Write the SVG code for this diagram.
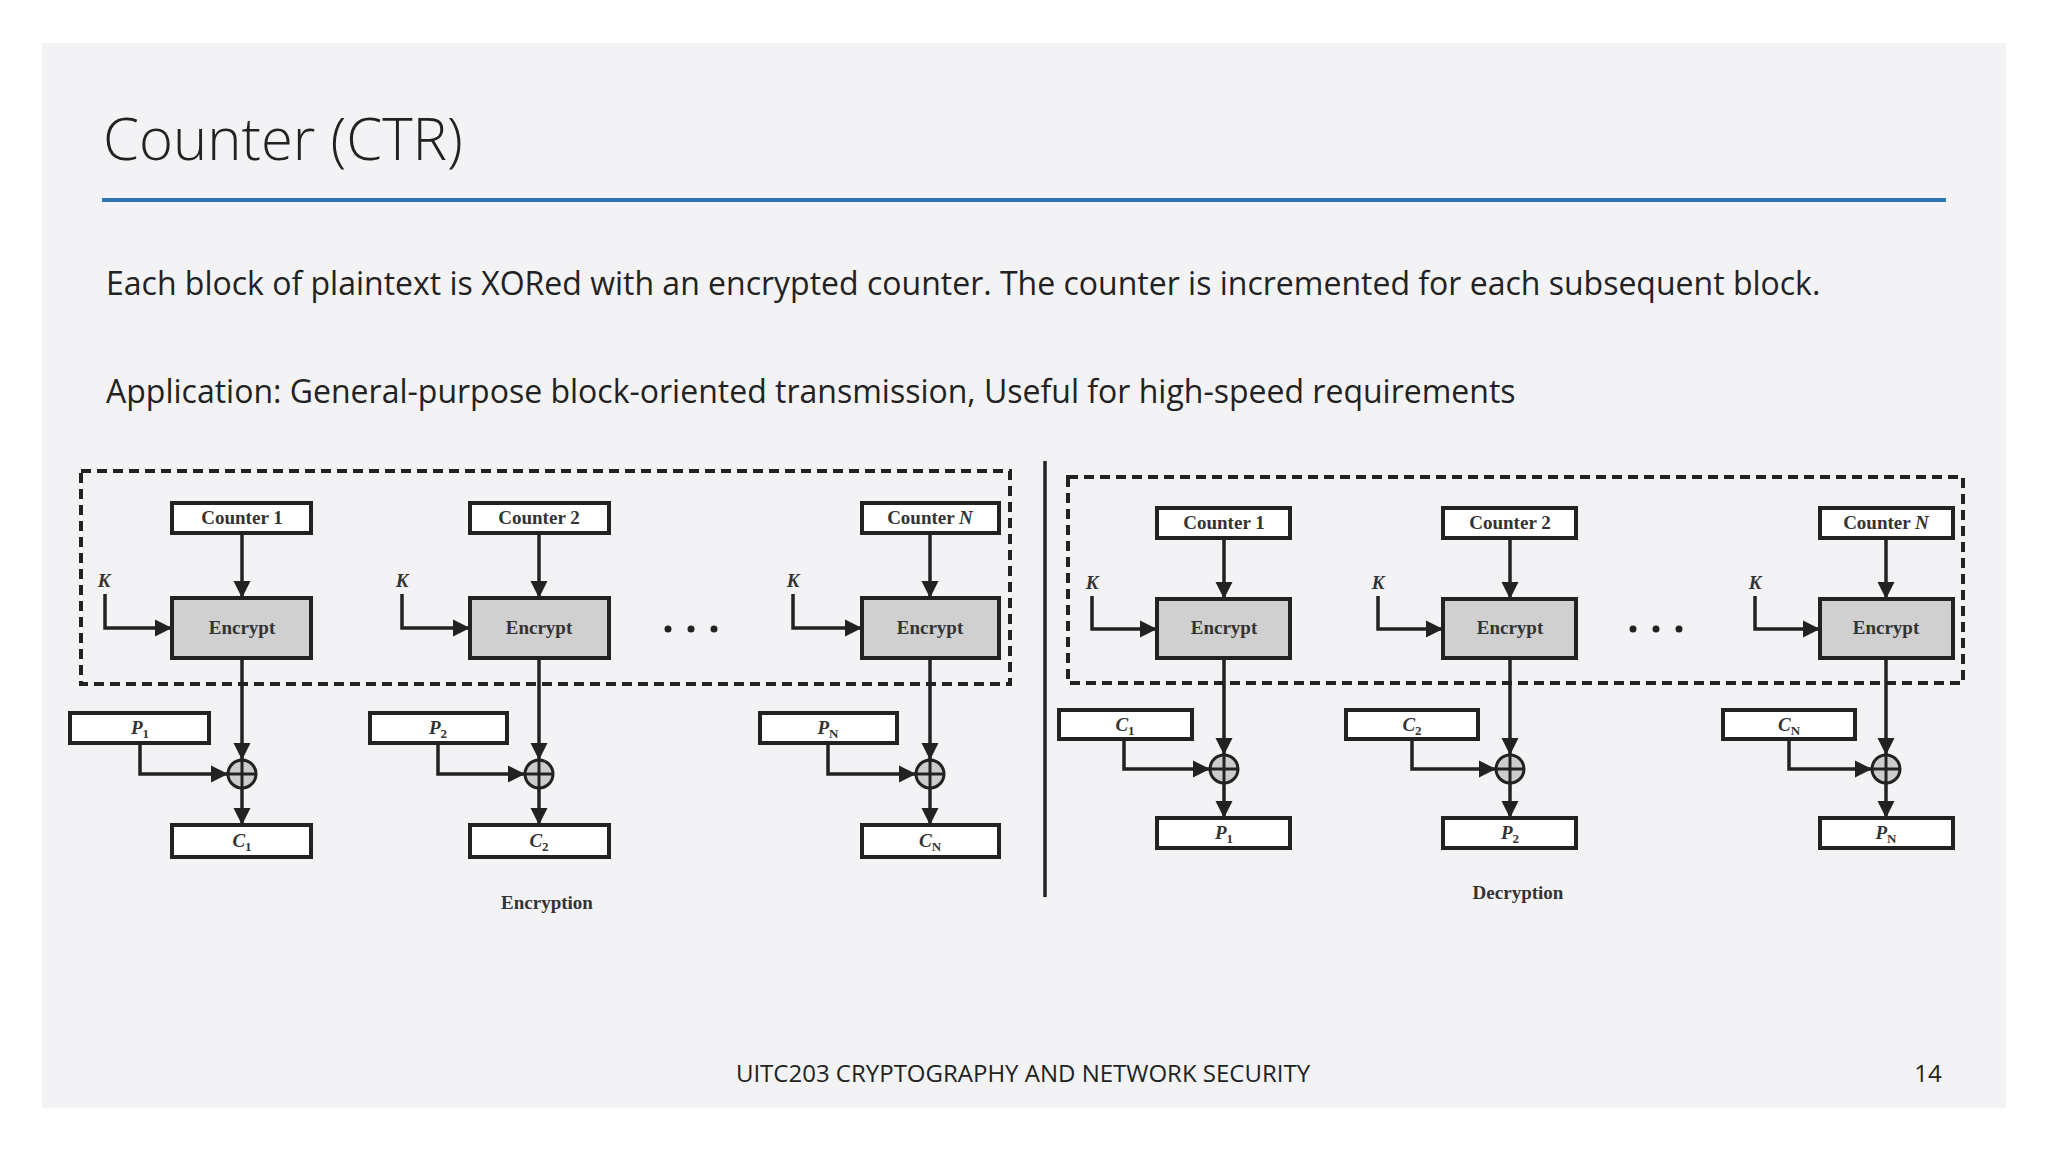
<svg xmlns="http://www.w3.org/2000/svg" width="2048" height="1152" viewBox="0 0 2048 1152">
<style>
.bx{fill:#fff;stroke:#222;stroke-width:4}
.en{fill:#d0d0d0;stroke:#222;stroke-width:4}
.ln{fill:none;stroke:#222;stroke-width:3.5}
.t{font-family:"Liberation Serif",serif;font-weight:bold;font-size:19px;fill:#333;text-anchor:middle}
.i{font-family:"Liberation Serif",serif;font-style:italic;font-weight:bold;font-size:19px;fill:#333;text-anchor:middle}
.s{font-size:13px;font-style:normal}
.x{fill:#ccc;stroke:#222;stroke-width:3}
.sl{font-family:"Open Sans","Noto Sans",sans-serif;fill:#222}
</style>
<defs>
<marker id="a" viewBox="0 0 10 10" refX="10" refY="5" markerWidth="5" markerHeight="5" orient="auto" markerUnits="strokeWidth"><path d="M0,0 L10,5 L0,10 z" fill="#222"/></marker>
<g id="xor"><circle r="14" class="x"/><path d="M-14,0H14M0,-14V14" stroke="#222" stroke-width="3"/></g>
</defs>
<rect width="2048" height="1152" fill="#fff"/>
<rect x="42" y="43" width="1964" height="1065" fill="#f3f3f6"/>
<text x="103" y="160" class="sl" font-size="58" font-weight="300" fill="#333">Counter (CTR)</text>
<rect x="102" y="198" width="1844" height="4" fill="#2e75b6"/>
<text x="106" y="295" class="sl" font-size="32">Each block of plaintext is XORed with an encrypted counter. The counter is incremented for each subsequent block.</text>
<text x="106" y="403" class="sl" font-size="32">Application: General-purpose block-oriented transmission, Useful for high-speed requirements</text>
<text x="1023" y="1082" class="sl" font-size="24" text-anchor="middle" fill="#444">UITC203 CRYPTOGRAPHY AND NETWORK SECURITY</text>
<text x="1928" y="1082" class="sl" font-size="24" text-anchor="middle" fill="#444">14</text>

<rect x="81" y="471" width="929" height="213" fill="none" stroke="#222" stroke-width="4" stroke-dasharray="10,6"/>
<rect x="1068" y="477" width="895" height="206" fill="none" stroke="#222" stroke-width="4" stroke-dasharray="10,6"/>
<line x1="1045" y1="461" x2="1045" y2="897" stroke="#222" stroke-width="3.5"/>

<g id="enc1">
<rect x="172" y="503" width="139" height="30" class="bx"/><text x="242" y="524" class="t">Counter 1</text>
<rect x="172" y="598" width="139" height="60" class="en"/><text x="242" y="634" class="t">Encrypt</text>
<text x="104" y="587" class="i">K</text>
<rect x="70" y="713" width="139" height="30" class="bx"/><text x="140" y="734" class="i">P<tspan class="s" dy="4">1</tspan></text>
<use href="#xor" x="242" y="774"/>
<rect x="172" y="825" width="139" height="32" class="bx"/><text x="242" y="847" class="i">C<tspan class="s" dy="4">1</tspan></text>
</g>
<g id="enc2">
<rect x="470" y="503" width="139" height="30" class="bx"/><text x="539" y="524" class="t">Counter 2</text>
<rect x="470" y="598" width="139" height="60" class="en"/><text x="539" y="634" class="t">Encrypt</text>
<text x="402" y="587" class="i">K</text>
<rect x="370" y="713" width="137" height="30" class="bx"/><text x="438" y="734" class="i">P<tspan class="s" dy="4">2</tspan></text>
<use href="#xor" x="539" y="774"/>
<rect x="470" y="825" width="139" height="32" class="bx"/><text x="539" y="847" class="i">C<tspan class="s" dy="4">2</tspan></text>
</g>
<g id="encN">
<rect x="862" y="503" width="137" height="30" class="bx"/><text x="930" y="524" class="t">Counter <tspan font-style="italic">N</tspan></text>
<rect x="862" y="598" width="137" height="60" class="en"/><text x="930" y="634" class="t">Encrypt</text>
<text x="793" y="587" class="i">K</text>
<rect x="760" y="713" width="137" height="30" class="bx"/><text x="828" y="734" class="i">P<tspan class="s" dy="4">N</tspan></text>
<use href="#xor" x="930" y="774"/>
<rect x="862" y="825" width="137" height="32" class="bx"/><text x="930" y="847" class="i">C<tspan class="s" dy="4">N</tspan></text>
</g>
<g id="dots1" fill="#222"><circle cx="668" cy="629" r="3.5"/><circle cx="691" cy="629" r="3.5"/><circle cx="714" cy="629" r="3.5"/></g>
<text x="547" y="909" class="t" font-size="23">Encryption</text>

<g id="dec1">
<rect x="1157" y="508" width="133" height="30" class="bx"/><text x="1224" y="529" class="t">Counter 1</text>
<rect x="1157" y="599" width="133" height="59" class="en"/><text x="1224" y="634" class="t">Encrypt</text>
<text x="1092" y="589" class="i">K</text>
<rect x="1059" y="710" width="133" height="29" class="bx"/><text x="1125" y="731" class="i">C<tspan class="s" dy="4">1</tspan></text>
<use href="#xor" x="1224" y="769"/>
<rect x="1157" y="818" width="133" height="30" class="bx"/><text x="1224" y="839" class="i">P<tspan class="s" dy="4">1</tspan></text>
</g>
<g id="dec2">
<rect x="1443" y="508" width="133" height="30" class="bx"/><text x="1510" y="529" class="t">Counter 2</text>
<rect x="1443" y="599" width="133" height="59" class="en"/><text x="1510" y="634" class="t">Encrypt</text>
<text x="1378" y="589" class="i">K</text>
<rect x="1346" y="710" width="132" height="29" class="bx"/><text x="1412" y="731" class="i">C<tspan class="s" dy="4">2</tspan></text>
<use href="#xor" x="1510" y="769"/>
<rect x="1443" y="818" width="133" height="30" class="bx"/><text x="1510" y="839" class="i">P<tspan class="s" dy="4">2</tspan></text>
</g>
<g id="decN">
<rect x="1820" y="508" width="133" height="30" class="bx"/><text x="1886" y="529" class="t">Counter <tspan font-style="italic">N</tspan></text>
<rect x="1820" y="599" width="133" height="59" class="en"/><text x="1886" y="634" class="t">Encrypt</text>
<text x="1755" y="589" class="i">K</text>
<rect x="1723" y="710" width="132" height="29" class="bx"/><text x="1789" y="731" class="i">C<tspan class="s" dy="4">N</tspan></text>
<use href="#xor" x="1886" y="769"/>
<rect x="1820" y="818" width="133" height="30" class="bx"/><text x="1886" y="839" class="i">P<tspan class="s" dy="4">N</tspan></text>
</g>
<g id="dots2" fill="#222"><circle cx="1633" cy="629" r="3.5"/><circle cx="1656" cy="629" r="3.5"/><circle cx="1679" cy="629" r="3.5"/></g>
<text x="1518" y="899" class="t" font-size="23">Decryption</text>

<g id="connectors" class="ln" marker-end="url(#a)">
<path d="M242,533V598"/><path d="M105,594V628H172"/><path d="M242,658V760"/><path d="M140,743V774H228"/><path d="M242,788V825"/>
<path d="M539,533V598"/><path d="M402,594V628H470"/><path d="M539,658V760"/><path d="M438,743V774H525"/><path d="M539,788V825"/>
<path d="M930,533V598"/><path d="M793,594V628H862"/><path d="M930,658V760"/><path d="M828,743V774H916"/><path d="M930,788V825"/>
<path d="M1224,538V599"/><path d="M1092,596V629H1157"/><path d="M1224,658V755"/><path d="M1124,739V769H1210"/><path d="M1224,783V818"/>
<path d="M1510,538V599"/><path d="M1378,596V629H1443"/><path d="M1510,658V755"/><path d="M1412,739V769H1496"/><path d="M1510,783V818"/>
<path d="M1886,538V599"/><path d="M1755,596V629H1820"/><path d="M1886,658V755"/><path d="M1789,739V769H1872"/><path d="M1886,783V818"/>
</g>
</svg>
